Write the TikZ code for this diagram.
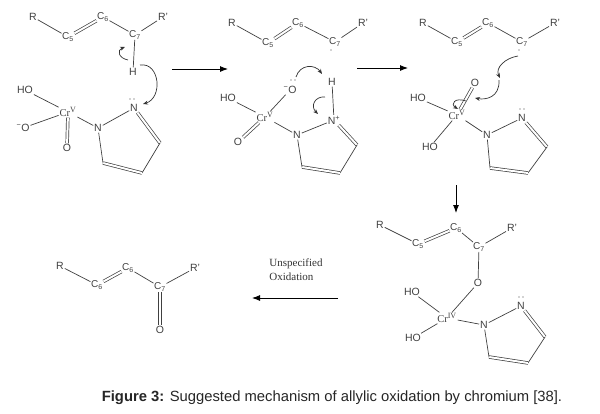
\documentclass[tikz,border=0pt]{standalone}
\usepackage{fontspec}
\setmainfont{Liberation Sans}
\newfontfamily\serf{Liberation Serif}
\usetikzlibrary{arrows.meta}
\begin{document}
\begin{tikzpicture}[x=1pt,y=-1pt,
 a/.style={inner sep=0.8pt,font=\fontsize{10.5}{10.5}\selectfont,text=black!75},
 sub/.style={inner sep=0.5pt,font=\fontsize{10}{10}\selectfont,text=black!75},
 b/.style={draw=black!75,line width=0.7pt},
 db/.style={draw=black!75,line width=0.7pt,double=white,double distance=2pt},
 rx/.style={draw=black,line width=0.9pt,-{Latex[length=8pt,width=6pt]}},
 ca/.style={draw=black!80,line width=0.7pt,-{Stealth[length=5pt,width=4pt]}},
 lp/.style={fill=black!75,circle,inner sep=0pt,minimum size=1.3pt}]
\useasboundingbox (0,0) rectangle (600,413);
\newcommand{\Cr}[2]{\serf Cr\textsuperscript{\fontsize{8}{8}\selectfont #2}}
% ---------- structure 1
\node[a] (r1) at (33,17) {R};
\node[sub] (c51) at (68,37) {C\textsubscript{5}};
\node[sub] (c61) at (103,17) {C\textsubscript{6}};
\node[sub] (c71) at (135,35) {C\textsubscript{7}};
\node[a] (rp1) at (163,17) {R'};
\node[a] (h1) at (133,72) {H};
\node[a] (ho1) at (25,90) {HO};
\node[a] (cr1) at (68,112) {\Cr{}{V}};
\node[a] (om1) at (23,128) {\textsuperscript{−}O};
\node[a] (o1) at (67,148) {O};
\node[a] (n11) at (98,128) {N};
\node[a] (n21) at (134,108) {N};
\node[lp] at (130,99) {}; \node[lp] at (134,99) {};
\coordinate (k31) at (160,143);
\coordinate (k41) at (142,173);
\coordinate (k51) at (103,163);
\draw[b] (r1)--(c51); \draw[db] (c51)--(c61); \draw[b] (c61)--(c71); \draw[b] (c71)--(rp1);
\draw[b] (c71)--(h1);
\draw[b] (ho1)--(cr1); \draw[b] (om1)--(cr1); \draw[db] (cr1)--(o1); \draw[b] (cr1)--(n11);
\draw[b] (n11)--(n21); \draw[db] (n21)--(k31); \draw[b] (k31)--(k41); \draw[db] (k41)--(k51); \draw[b] (k51)--(n11);
\coordinate (ca1s) at (128,60); \coordinate (ca1e) at (125,47);
\draw[ca] (ca1s) .. controls (118,58) and (117,50) .. (ca1e);
\coordinate (ca2s) at (140,65); \coordinate (ca2e) at (143,104);
\draw[ca] (ca2s) .. controls (160,62) and (163,98) .. (ca2e);
% arrow 1
\coordinate (a1s) at (172,69); \coordinate (a1e) at (228,69);
\draw[rx] (a1s)--(a1e);
% ---------- structure 2
\node[a] (r2) at (232,23) {R};
\node[sub] (c52) at (268,43) {C\textsubscript{5}};
\node[sub] (c62) at (298,23) {C\textsubscript{6}};
\node[sub] (c72) at (335,42) {C\textsubscript{7}};
\node[lp] at (331,50) {};
\node[a] (rp2) at (363,23) {R'};
\node[a] (om2) at (290,90) {\textsuperscript{−}O};
\node[lp] at (291,80) {}; \node[lp] at (295,80) {};
\node[a] (h2) at (332,82) {H};
\node[a] (np2) at (334,120) {N\textsuperscript{+}};
\node[a] (ho2) at (228,98) {HO};
\node[a] (cr2) at (265,117) {\Cr{}{V}};
\node[a] (o2) at (238,142) {O};
\node[a] (n12) at (297,135) {N};
\coordinate (k32) at (357,145);
\coordinate (k42) at (340,173);
\coordinate (k52) at (302,167);
\draw[b] (r2)--(c52); \draw[db] (c52)--(c62); \draw[b] (c62)--(c72); \draw[b] (c72)--(rp2);
\draw[b] (h2)--(np2);
\draw[b] (ho2)--(cr2); \draw[b] (om2)--(cr2); \draw[db] (cr2)--(o2); \draw[b] (cr2)--(n12);
\draw[b] (n12)--(np2); \draw[db] (np2)--(k32); \draw[b] (k32)--(k42); \draw[db] (k42)--(k52); \draw[b] (k52)--(n12);
\coordinate (ca3s) at (296,77); \coordinate (ca3e) at (322,74);
\draw[ca] (ca3s) .. controls (300,64) and (315,64) .. (ca3e);
\coordinate (ca4s) at (325,97); \coordinate (ca4e) at (318,114);
\draw[ca] (ca4s) .. controls (315,96) and (310,106) .. (ca4e);
% arrow 2
\coordinate (a2s) at (357,68); \coordinate (a2e) at (408,68);
\draw[rx] (a2s)--(a2e);
% ---------- structure 3
\node[a] (r3) at (423,23) {R};
\node[sub] (c53) at (457,42) {C\textsubscript{5}};
\node[sub] (c63) at (488,23) {C\textsubscript{6}};
\node[sub] (c73) at (522,42) {C\textsubscript{7}};
\node[lp] at (519,50) {};
\node[a] (rp3) at (555,23) {R'};
\node[a] (o3) at (475,83) {O};
\node[a] (ho3) at (418,98) {HO};
\node[a] (cr3) at (457,115) {\Cr{}{V}};
\node[a] (ho3b) at (430,147) {HO};
\node[a] (n13) at (487,135) {N};
\node[a] (n23) at (522,118) {N};
\node[lp] at (520,109) {}; \node[lp] at (524,109) {};
\coordinate (k33) at (547,147);
\coordinate (k43) at (528,173);
\coordinate (k53) at (490,168);
\draw[b] (r3)--(c53); \draw[db] (c53)--(c63); \draw[b] (c63)--(c73); \draw[b] (c73)--(rp3);
\draw[b] (ho3)--(cr3); \draw[b] (ho3b)--(cr3); \draw[db] (cr3)--(o3); \draw[b] (cr3)--(n13);
\draw[b] (n13)--(n23); \draw[db] (n23)--(k33); \draw[b] (k33)--(k43); \draw[db] (k43)--(k53); \draw[b] (k53)--(n13);
\coordinate (ca5s) at (518,56); \coordinate (ca5e) at (500,78);
\draw[ca] (ca5s) .. controls (505,58) and (495,68) .. (ca5e);
\coordinate (ca6s) at (499,80); \coordinate (ca6e) at (475,98);
\draw[ca] (ca6s) .. controls (500,98) and (485,100) .. (ca6e);
\coordinate (ca7s) at (466,101); \coordinate (ca7e) at (458,109);
\draw[ca] (ca7s) .. controls (455,97) and (450,104) .. (ca7e);
% arrow 3
\coordinate (a3s) at (456,185); \coordinate (a3e) at (456,213);
\draw[rx] (a3s)--(a3e);
% ---------- structure 4
\node[a] (r4) at (380,225) {R};
\node[sub] (c54) at (418,244) {C\textsubscript{5}};
\node[sub] (c64) at (456,228) {C\textsubscript{6}};
\node[sub] (c74) at (479,247) {C\textsubscript{7}};
\node[a] (rp4) at (512,228) {R'};
\node[a] (o4) at (478,283) {O};
\node[a] (ho4) at (412,292) {HO};
\node[a] (cr4) at (447,318) {\Cr{}{IV}};
\node[a] (ho4b) at (413,338) {HO};
\node[a] (n14) at (484,325) {N};
\node[a] (n24) at (521,306) {N};
\node[lp] at (519,297) {}; \node[lp] at (523,297) {};
\coordinate (k34) at (545,337);
\coordinate (k44) at (528,363);
\coordinate (k54) at (489,357);
\draw[b] (r4)--(c54); \draw[db] (c54)--(c64); \draw[b] (c64)--(c74); \draw[b] (c74)--(rp4);
\draw[b] (c74)--(o4); \draw[b] (o4)--(cr4);
\draw[b] (ho4)--(cr4); \draw[b] (ho4b)--(cr4); \draw[b] (cr4)--(n14);
\draw[b] (n14)--(n24); \draw[db] (n24)--(k34); \draw[b] (k34)--(k44); \draw[db] (k44)--(k54); \draw[b] (k54)--(n14);
% arrow 4
\coordinate (a4s) at (338,298); \coordinate (a4e) at (252,298);
\draw[rx] (a4s)--(a4e);
\node[inner sep=0pt,align=left,font=\serf\fontsize{11}{14}\selectfont,text=black!80] (lab) at (296,270) {Unspecified\\Oxidation};
% ---------- structure 5
\node[a] (r5) at (60,266) {R};
\node[sub] (c55) at (97,285) {C\textsubscript{6}};
\node[sub] (c65) at (128,268) {C\textsubscript{6}};
\node[sub] (c75) at (160,287) {C\textsubscript{7}};
\node[a] (rp5) at (195,268) {R'};
\node[a] (o5) at (160,330) {O};
\draw[b] (r5)--(c55); \draw[db] (c55)--(c65); \draw[b] (c65)--(c75); \draw[b] (c75)--(rp5);
\draw[db] (c75.south)--(o5.north);
% caption
\node[inner sep=0pt,font=\fontsize{14.8}{16}\selectfont,text=black!85] (cap) at (332,398) {\textbf{Figure 3:} Suggested mechanism of allylic oxidation by chromium [38].};
\end{tikzpicture}
\end{document}
